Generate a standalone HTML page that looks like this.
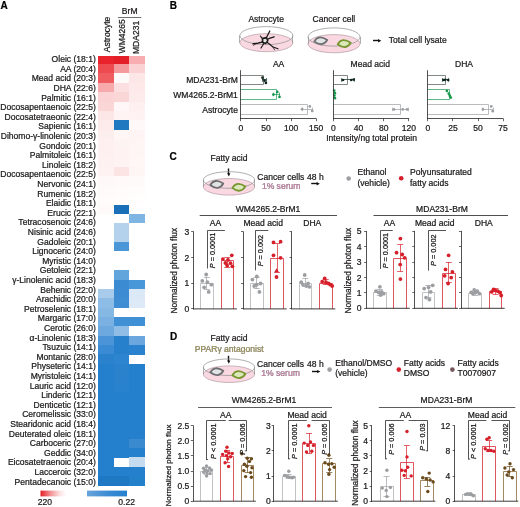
<!DOCTYPE html>
<html lang="en">
<head>
<meta charset="utf-8">
<title>Figure</title>
<style>
html,body{margin:0;padding:0;background:#fff;}
body{width:520px;height:507px;overflow:hidden;}
svg{display:block;font-family:"Liberation Sans",Arial,Helvetica,sans-serif;font-size:8.55px;fill:#1a1718;}
text{stroke:#1a1718;stroke-width:0.22px;paint-order:stroke;}
</style>
</head>
<body>
<svg width="520" height="507" viewBox="0 0 520 507">
<rect x="0" y="0" width="520" height="507" fill="#ffffff"/>
<g id="panelA">
<text x="0.60" y="9.20" font-size="10" fill="#000" stroke="#000" font-weight="bold">A</text>
<text x="129.70" y="14.10" text-anchor="middle">BrM</text>
<line x1="118.00" y1="17.50" x2="141.30" y2="17.50" stroke="#333" stroke-width="0.7"/>
<text transform="translate(109.80 52.30) rotate(-90)">Astrocyte</text>
<text transform="translate(124.90 53.40) rotate(-90)">WM4265</text>
<text transform="translate(139.30 54.00) rotate(-90)">MDA231</text>
<text x="95.80" y="62.20" text-anchor="end">Oleic (18:1)</text>
<text x="95.80" y="71.80" text-anchor="end">AA (20:4)</text>
<text x="95.80" y="81.40" text-anchor="end">Mead acid (20:3)</text>
<text x="95.80" y="91.00" text-anchor="end">DHA (22:6)</text>
<text x="95.80" y="100.60" text-anchor="end">Palmitic (16:1)</text>
<text x="95.80" y="110.20" text-anchor="end">Docosapentaenoic (22:5)</text>
<text x="95.80" y="119.80" text-anchor="end">Docosatetraeonic (22:4)</text>
<text x="95.80" y="129.40" text-anchor="end">Sapienic (16:1)</text>
<text x="95.80" y="139.00" text-anchor="end">Dihomo-γ-linolenic (20:3)</text>
<text x="95.80" y="148.60" text-anchor="end">Gondoic (20:1)</text>
<text x="95.80" y="158.20" text-anchor="end">Palmitoleic (16:1)</text>
<text x="95.80" y="167.80" text-anchor="end">Linoleic (18:2)</text>
<text x="95.80" y="177.40" text-anchor="end">Docosapentaenoic (22:5)</text>
<text x="95.80" y="187.00" text-anchor="end">Nervonic (24:1)</text>
<text x="95.80" y="196.60" text-anchor="end">Rumenic (18:2)</text>
<text x="95.80" y="206.20" text-anchor="end">Elaidic (18:1)</text>
<text x="95.80" y="215.80" text-anchor="end">Erucic (22:1)</text>
<text x="95.80" y="225.40" text-anchor="end">Tetracosenoic (24:6)</text>
<text x="95.80" y="235.00" text-anchor="end">Nisinic acid (24:6)</text>
<text x="95.80" y="244.60" text-anchor="end">Gadoleic (20:1)</text>
<text x="95.80" y="254.20" text-anchor="end">Lignoceric (24:0)</text>
<text x="95.80" y="263.80" text-anchor="end">Myristic (14:0)</text>
<text x="95.80" y="273.40" text-anchor="end">Getoleic (22:1)</text>
<text x="95.80" y="283.00" text-anchor="end">γ-Linolenic acid (18:3)</text>
<text x="95.80" y="292.60" text-anchor="end">Behenic (22:0)</text>
<text x="95.80" y="302.20" text-anchor="end">Arachidic (20:0)</text>
<text x="95.80" y="311.80" text-anchor="end">Petroselenic (18:1)</text>
<text x="95.80" y="321.40" text-anchor="end">Margaric (17:0)</text>
<text x="95.80" y="331.00" text-anchor="end">Cerotic (26:0)</text>
<text x="95.80" y="340.60" text-anchor="end">α-Linolenic (18:3)</text>
<text x="95.80" y="350.20" text-anchor="end">Tsuzuic (14:1)</text>
<text x="95.80" y="359.80" text-anchor="end">Montanic (28:0)</text>
<text x="95.80" y="369.40" text-anchor="end">Physeteric (14:1)</text>
<text x="95.80" y="379.00" text-anchor="end">Myristoleic (14:1)</text>
<text x="95.80" y="388.60" text-anchor="end">Lauric acid (12:0)</text>
<text x="95.80" y="398.20" text-anchor="end">Linderic (12:1)</text>
<text x="95.80" y="407.80" text-anchor="end">Denticetic (12:1)</text>
<text x="95.80" y="417.40" text-anchor="end">Ceromelissic (33:0)</text>
<text x="95.80" y="427.00" text-anchor="end">Stearidonic acid (18:4)</text>
<text x="95.80" y="436.60" text-anchor="end">Deuterated oleic (18:1)</text>
<text x="95.80" y="446.20" text-anchor="end">Carboceric (27:0)</text>
<text x="95.80" y="455.80" text-anchor="end">Geddic (34:0)</text>
<text x="95.80" y="465.40" text-anchor="end">Eicosatetraenoic (20:4)</text>
<text x="95.80" y="475.00" text-anchor="end">Lacceroic (32:0)</text>
<text x="95.80" y="484.60" text-anchor="end">Pentadecanoic (15:0)</text>
<g shape-rendering="crispEdges">
<rect x="98.40" y="55.80" width="15.35" height="8.32" fill="#e9222b"/>
<rect x="113.70" y="55.80" width="15.35" height="8.32" fill="#e41e26"/>
<rect x="129.00" y="55.80" width="15.75" height="8.32" fill="#f8aeb0"/>
<rect x="98.40" y="64.07" width="15.35" height="9.42" fill="#ee4b50"/>
<rect x="113.70" y="64.07" width="15.35" height="9.42" fill="#f49a9c"/>
<rect x="129.00" y="64.07" width="15.75" height="9.42" fill="#fbd2d3"/>
<rect x="98.40" y="73.43" width="15.35" height="9.42" fill="#ef5d60"/>
<rect x="113.70" y="73.43" width="15.35" height="9.42" fill="#fffafa"/>
<rect x="129.00" y="73.43" width="15.75" height="9.42" fill="#fde6e6"/>
<rect x="98.40" y="82.80" width="15.35" height="9.42" fill="#f7a9ab"/>
<rect x="113.70" y="82.80" width="15.35" height="9.42" fill="#fcdfe0"/>
<rect x="129.00" y="82.80" width="15.75" height="9.42" fill="#fde9e9"/>
<rect x="98.40" y="92.17" width="15.35" height="9.42" fill="#fbd3d4"/>
<rect x="113.70" y="92.17" width="15.35" height="9.42" fill="#fbd6d7"/>
<rect x="129.00" y="92.17" width="15.75" height="9.42" fill="#fdebeb"/>
<rect x="98.40" y="101.54" width="15.35" height="9.42" fill="#fbd6d7"/>
<rect x="113.70" y="101.54" width="15.35" height="9.42" fill="#fff7f7"/>
<rect x="129.00" y="101.54" width="15.75" height="9.42" fill="#fef0f0"/>
<rect x="98.40" y="110.90" width="15.35" height="9.42" fill="#fde6e6"/>
<rect x="113.70" y="110.90" width="15.35" height="9.42" fill="#fff4f4"/>
<rect x="129.00" y="110.90" width="15.75" height="9.42" fill="#fef2f2"/>
<rect x="98.40" y="120.27" width="15.35" height="9.42" fill="#fdebeb"/>
<rect x="113.70" y="120.27" width="15.35" height="9.42" fill="#1f78c0"/>
<rect x="129.00" y="120.27" width="15.75" height="9.42" fill="#fff8f8"/>
<rect x="98.40" y="129.64" width="15.35" height="9.42" fill="#fdeeee"/>
<rect x="113.70" y="129.64" width="15.35" height="9.42" fill="#fff6f6"/>
<rect x="129.00" y="129.64" width="15.75" height="9.42" fill="#fef4f4"/>
<rect x="98.40" y="139.00" width="15.35" height="9.42" fill="#fef0f0"/>
<rect x="113.70" y="139.00" width="15.35" height="9.42" fill="#fef3f3"/>
<rect x="129.00" y="139.00" width="15.75" height="9.42" fill="#fef5f5"/>
<rect x="98.40" y="148.37" width="15.35" height="9.42" fill="#fef0f0"/>
<rect x="113.70" y="148.37" width="15.35" height="9.42" fill="#fef2f2"/>
<rect x="129.00" y="148.37" width="15.75" height="9.42" fill="#fef5f5"/>
<rect x="98.40" y="157.74" width="15.35" height="9.42" fill="#fef1f1"/>
<rect x="113.70" y="157.74" width="15.35" height="9.42" fill="#fef3f3"/>
<rect x="129.00" y="157.74" width="15.75" height="9.42" fill="#fff6f6"/>
<rect x="98.40" y="167.10" width="15.35" height="9.42" fill="#fef2f2"/>
<rect x="113.70" y="167.10" width="15.35" height="9.42" fill="#fce4e4"/>
<rect x="129.00" y="167.10" width="15.75" height="9.42" fill="#fef5f5"/>
<rect x="98.40" y="176.47" width="15.35" height="9.42" fill="#fff8f8"/>
<rect x="113.70" y="176.47" width="15.35" height="9.42" fill="#fff9f9"/>
<rect x="129.00" y="176.47" width="15.75" height="9.42" fill="#fffafa"/>
<rect x="98.40" y="185.84" width="15.35" height="9.42" fill="#fffafa"/>
<rect x="113.70" y="185.84" width="15.35" height="9.42" fill="#fffbfb"/>
<rect x="129.00" y="185.84" width="15.75" height="9.42" fill="#fffcfc"/>
<rect x="98.40" y="195.21" width="15.35" height="9.42" fill="#fffbfb"/>
<rect x="113.70" y="195.21" width="15.35" height="9.42" fill="#fffcfc"/>
<rect x="129.00" y="195.21" width="15.75" height="9.42" fill="#fffdfd"/>
<rect x="98.40" y="204.57" width="15.35" height="9.42" fill="#fffafa"/>
<rect x="113.70" y="204.57" width="15.35" height="9.42" fill="#1a70b8"/>
<rect x="129.00" y="213.94" width="15.75" height="9.42" fill="#7fb5e3"/>
<rect x="113.70" y="223.31" width="15.35" height="9.42" fill="#b5d2ec"/>
<rect x="113.70" y="232.67" width="15.35" height="9.42" fill="#b5d2ec"/>
<rect x="113.70" y="242.04" width="15.35" height="9.42" fill="#4a96d6"/>
<rect x="113.70" y="270.14" width="15.35" height="9.42" fill="#62a4dc"/>
<rect x="113.70" y="279.51" width="15.35" height="9.42" fill="#3b8bd3"/>
<rect x="129.00" y="279.51" width="15.75" height="9.42" fill="#4797d9"/>
<rect x="98.40" y="288.88" width="15.35" height="9.42" fill="#a8cbeb"/>
<rect x="113.70" y="288.88" width="15.35" height="9.42" fill="#3d8cd3"/>
<rect x="129.00" y="288.88" width="15.75" height="9.42" fill="#dbe8f6"/>
<rect x="98.40" y="298.24" width="15.35" height="9.42" fill="#8dbce6"/>
<rect x="113.70" y="298.24" width="15.35" height="9.42" fill="#3f8ed4"/>
<rect x="129.00" y="298.24" width="15.75" height="9.42" fill="#dde9f6"/>
<rect x="98.40" y="307.61" width="15.35" height="9.42" fill="#86b8e4"/>
<rect x="98.40" y="316.98" width="15.35" height="9.42" fill="#7ab0e2"/>
<rect x="113.70" y="316.98" width="15.35" height="9.42" fill="#4090d5"/>
<rect x="129.00" y="316.98" width="15.75" height="9.42" fill="#3f90d5"/>
<rect x="98.40" y="326.34" width="15.35" height="9.42" fill="#6da8de"/>
<rect x="113.70" y="326.34" width="15.35" height="9.42" fill="#8fbde6"/>
<rect x="98.40" y="335.71" width="15.35" height="9.42" fill="#4a94d7"/>
<rect x="113.70" y="335.71" width="15.35" height="9.42" fill="#2680cc"/>
<rect x="129.00" y="335.71" width="15.75" height="9.42" fill="#6ba7de"/>
<rect x="98.40" y="345.08" width="15.35" height="9.42" fill="#3a8bd3"/>
<rect x="113.70" y="345.08" width="15.35" height="9.42" fill="#2680cc"/>
<rect x="129.00" y="345.08" width="15.75" height="9.42" fill="#2a82ce"/>
<rect x="98.40" y="354.44" width="15.35" height="9.42" fill="#2a82cd"/>
<rect x="113.70" y="354.44" width="15.35" height="9.42" fill="#2e85cf"/>
<rect x="98.40" y="363.81" width="15.35" height="9.42" fill="#2480cc"/>
<rect x="113.70" y="363.81" width="15.35" height="9.42" fill="#2a82cd"/>
<rect x="129.00" y="363.81" width="15.75" height="9.42" fill="#2480cc"/>
<rect x="98.40" y="373.18" width="15.35" height="9.42" fill="#2480cc"/>
<rect x="113.70" y="373.18" width="15.35" height="9.42" fill="#2a82cd"/>
<rect x="129.00" y="373.18" width="15.75" height="9.42" fill="#2480cc"/>
<rect x="98.40" y="382.55" width="15.35" height="9.42" fill="#2480cc"/>
<rect x="113.70" y="382.55" width="15.35" height="9.42" fill="#2882cd"/>
<rect x="129.00" y="382.55" width="15.75" height="9.42" fill="#2480cc"/>
<rect x="98.40" y="391.91" width="15.35" height="9.42" fill="#2480cc"/>
<rect x="113.70" y="391.91" width="15.35" height="9.42" fill="#2480cc"/>
<rect x="129.00" y="391.91" width="15.75" height="9.42" fill="#2480cc"/>
<rect x="98.40" y="401.28" width="15.35" height="9.42" fill="#2480cc"/>
<rect x="113.70" y="401.28" width="15.35" height="9.42" fill="#2480cc"/>
<rect x="129.00" y="401.28" width="15.75" height="9.42" fill="#2480cc"/>
<rect x="98.40" y="410.65" width="15.35" height="9.42" fill="#2480cc"/>
<rect x="113.70" y="410.65" width="15.35" height="9.42" fill="#2480cc"/>
<rect x="129.00" y="410.65" width="15.75" height="9.42" fill="#2480cc"/>
<rect x="98.40" y="420.01" width="15.35" height="9.42" fill="#2480cc"/>
<rect x="113.70" y="420.01" width="15.35" height="9.42" fill="#2480cc"/>
<rect x="129.00" y="420.01" width="15.75" height="9.42" fill="#2480cc"/>
<rect x="98.40" y="429.38" width="15.35" height="9.42" fill="#2480cc"/>
<rect x="113.70" y="429.38" width="15.35" height="9.42" fill="#2480cc"/>
<rect x="129.00" y="429.38" width="15.75" height="9.42" fill="#2480cc"/>
<rect x="98.40" y="438.75" width="15.35" height="9.42" fill="#2480cc"/>
<rect x="113.70" y="438.75" width="15.35" height="9.42" fill="#2480cc"/>
<rect x="129.00" y="438.75" width="15.75" height="9.42" fill="#3a8ad0"/>
<rect x="98.40" y="448.11" width="15.35" height="9.42" fill="#2480cc"/>
<rect x="113.70" y="448.11" width="15.35" height="9.42" fill="#2480cc"/>
<rect x="129.00" y="448.11" width="15.75" height="9.42" fill="#2480cc"/>
<rect x="98.40" y="457.48" width="15.35" height="9.42" fill="#2480cc"/>
<rect x="129.00" y="457.48" width="15.75" height="9.42" fill="#c5dcf0"/>
<rect x="98.40" y="466.85" width="15.35" height="9.42" fill="#2480cc"/>
<rect x="113.70" y="466.85" width="15.35" height="9.42" fill="#2480cc"/>
<rect x="129.00" y="466.85" width="15.75" height="9.42" fill="#2480cc"/>
<rect x="98.40" y="476.22" width="15.35" height="9.42" fill="#1f78c4"/>
<rect x="113.70" y="476.22" width="15.35" height="9.42" fill="#1f78c4"/>
<rect x="129.00" y="476.22" width="15.75" height="9.42" fill="#2380cb"/>
</g>
<defs><linearGradient id="gr" x1="0" x2="1" y1="0" y2="0"><stop offset="0" stop-color="#e41e26"/><stop offset="0.4" stop-color="#f39699"/><stop offset="0.75" stop-color="#fce3e4"/><stop offset="1" stop-color="#ffffff"/></linearGradient><linearGradient id="gb" x1="0" x2="1" y1="0" y2="0"><stop offset="0" stop-color="#69a5dc"/><stop offset="0.5" stop-color="#3d8cd3"/><stop offset="1" stop-color="#2480cc"/></linearGradient></defs>
<rect x="40.50" y="490.60" width="26.00" height="5.80" fill="url(#gr)"/>
<rect x="87.00" y="490.60" width="40.00" height="5.80" fill="url(#gb)"/>
<text x="45.00" y="504.50" text-anchor="middle">220</text>
<text x="126.60" y="504.50" text-anchor="middle">0.22</text>
</g>
<g id="panelB">
<text x="169.80" y="9.20" font-size="10" fill="#000" stroke="#000" font-weight="bold">B</text>
<text x="266.20" y="21.50" text-anchor="middle">Astrocyte</text>
<text x="333.90" y="21.50" text-anchor="middle">Cancer cell</text>
<ellipse cx="266.4" cy="42.7" rx="26.5" ry="9" fill="#f9d8e1" stroke="#b39aa3" stroke-width="0.7"/>
<line x1="239.50" y1="35.60" x2="239.50" y2="42.70" stroke="#8c8c8c" stroke-width="0.7"/>
<line x1="292.50" y1="35.60" x2="292.50" y2="42.70" stroke="#8c8c8c" stroke-width="0.7"/>
<ellipse cx="266.4" cy="35.6" rx="26.5" ry="9" fill="none" stroke="#8c8c8c" stroke-width="0.7"/>
<g stroke="#1a1a1a" fill="none" stroke-linecap="round" stroke-linejoin="round"><path d="M265 40.5 L268 34.5 L269.8 31" stroke-width="1.3"/><path d="M266 40 L270 38.2 L274.2 36.8" stroke-width="1.3"/><path d="M266 41.5 L270 44.5 L273 47 L278 48.8" stroke-width="1.2"/><path d="M273 47 L274.5 49.8" stroke-width="0.8"/><path d="M264 41.5 L258 43.2 L253 43.8" stroke-width="1.4"/><path d="M256 43.4 L253.6 45.4" stroke-width="0.8"/><path d="M264.6 42 L262.6 45.5 L261 48" stroke-width="1.2"/><path d="M264.2 39.8 L261.6 37.6 L260.4 36" stroke-width="1.1"/><path d="M262.4 38.6 L266.4 37.6 L267.8 40.6 L265.8 43.4 L262.8 42.6 Z" stroke-width="1.6" fill="#e4e4e4"/></g>
<ellipse cx="334" cy="43.7" rx="26" ry="9.1" fill="#f9d8e1" stroke="#b39aa3" stroke-width="0.7"/>
<line x1="308.50" y1="37.00" x2="308.50" y2="43.70" stroke="#8c8c8c" stroke-width="0.7"/>
<line x1="360.50" y1="37.00" x2="360.50" y2="43.70" stroke="#8c8c8c" stroke-width="0.7"/>
<ellipse cx="334" cy="37" rx="26" ry="9.1" fill="none" stroke="#8c8c8c" stroke-width="0.7"/>
<path d="M314.30 41.40 C317.23 36.40 321.45 36.20 327.30 39.90 C324.38 45.00 319.50 45.80 314.30 41.40Z" fill="#e2e3e4" stroke="#6d6e71" stroke-width="1.8" stroke-linejoin="round"/>
<path d="M337.70 44.20 C340.62 39.20 344.85 39.00 350.70 42.70 C347.77 47.80 342.90 48.60 337.70 44.20Z" fill="#dce8b9" stroke="#76962f" stroke-width="1.8" stroke-linejoin="round"/>
<line x1="373.00" y1="40.50" x2="379.10" y2="40.50" stroke="#111" stroke-width="1.4"/>
<path d="M381.30 40.80 L378.10 39.10 L378.10 42.50Z" fill="#111"/>
<text x="388.80" y="43.40">Total cell lysate</text>
<text x="237.90" y="83.00" text-anchor="end">MDA231-BrM</text>
<text x="237.90" y="98.20" text-anchor="end">WM4265.2-BrM1</text>
<text x="237.90" y="113.40" text-anchor="end">Astrocyte</text>
<text x="278.60" y="67.00" text-anchor="middle">AA</text>
<path d="M240.50 75.50 H263.50 V84.50 H240.50" fill="#fff" stroke="#59615c" stroke-width="0.75"/>
<path d="M240.50 89.50 H276.50 V99.50 H240.50" fill="#fff" stroke="#2f9e5e" stroke-width="0.75"/>
<path d="M240.50 104.50 H307.50 V114.50 H240.50" fill="#fff" stroke="#a3a5a8" stroke-width="0.75"/>
<line x1="262.24" y1="79.50" x2="266.00" y2="79.50" stroke="#10281c" stroke-width="0.7"/>
<line x1="262.50" y1="78.15" x2="262.50" y2="81.75" stroke="#10281c" stroke-width="0.7"/>
<line x1="266.50" y1="78.15" x2="266.50" y2="81.75" stroke="#10281c" stroke-width="0.7"/>
<line x1="273.03" y1="94.50" x2="279.55" y2="94.50" stroke="#14964b" stroke-width="0.7"/>
<line x1="273.50" y1="92.60" x2="273.50" y2="96.20" stroke="#14964b" stroke-width="0.7"/>
<line x1="279.50" y1="92.60" x2="279.50" y2="96.20" stroke="#14964b" stroke-width="0.7"/>
<line x1="302.14" y1="109.50" x2="312.69" y2="109.50" stroke="#9c9ea1" stroke-width="0.7"/>
<line x1="302.50" y1="107.55" x2="302.50" y2="111.15" stroke="#9c9ea1" stroke-width="0.7"/>
<line x1="312.50" y1="107.55" x2="312.50" y2="111.15" stroke="#9c9ea1" stroke-width="0.7"/>
<circle cx="262.50" cy="77.70" r="1.35" fill="#10281c"/>
<circle cx="264.60" cy="80.60" r="1.35" fill="#10281c"/>
<circle cx="265.90" cy="82.90" r="1.35" fill="#10281c"/>
<circle cx="273.40" cy="94.60" r="1.35" fill="#14964b"/>
<circle cx="277.30" cy="91.90" r="1.35" fill="#14964b"/>
<circle cx="279.50" cy="96.90" r="1.35" fill="#14964b"/>
<circle cx="302.10" cy="109.20" r="1.35" fill="#9c9ea1"/>
<circle cx="309.80" cy="106.40" r="1.35" fill="#9c9ea1"/>
<circle cx="312.30" cy="110.90" r="1.35" fill="#9c9ea1"/>
<line x1="240.50" y1="70.20" x2="240.50" y2="119.00" stroke="#262626" stroke-width="0.8"/>
<line x1="240.10" y1="118.50" x2="316.50" y2="118.50" stroke="#262626" stroke-width="0.8"/>
<line x1="240.50" y1="118.70" x2="240.50" y2="121.20" stroke="#262626" stroke-width="0.7"/>
<text x="240.90" y="130.90" text-anchor="middle">0</text>
<line x1="266.50" y1="118.70" x2="266.50" y2="121.20" stroke="#262626" stroke-width="0.7"/>
<text x="266.00" y="130.90" text-anchor="middle">50</text>
<line x1="291.50" y1="118.70" x2="291.50" y2="121.20" stroke="#262626" stroke-width="0.7"/>
<text x="291.10" y="130.90" text-anchor="middle">100</text>
<line x1="316.50" y1="118.70" x2="316.50" y2="121.20" stroke="#262626" stroke-width="0.7"/>
<text x="316.20" y="130.90" text-anchor="middle">150</text>
<text x="370.30" y="67.00" text-anchor="middle">Mead acid</text>
<path d="M333.50 75.50 H347.50 V84.50 H333.50" fill="#fff" stroke="#59615c" stroke-width="0.75"/>
<path d="M333.50 104.50 H400.50 V114.50 H333.50" fill="#fff" stroke="#a3a5a8" stroke-width="0.75"/>
<line x1="341.66" y1="79.50" x2="354.21" y2="79.50" stroke="#10281c" stroke-width="0.7"/>
<line x1="341.50" y1="78.15" x2="341.50" y2="81.75" stroke="#10281c" stroke-width="0.7"/>
<line x1="354.50" y1="78.15" x2="354.50" y2="81.75" stroke="#10281c" stroke-width="0.7"/>
<line x1="392.80" y1="109.50" x2="408.49" y2="109.50" stroke="#9c9ea1" stroke-width="0.7"/>
<line x1="392.50" y1="107.55" x2="392.50" y2="111.15" stroke="#9c9ea1" stroke-width="0.7"/>
<line x1="408.50" y1="107.55" x2="408.50" y2="111.15" stroke="#9c9ea1" stroke-width="0.7"/>
<circle cx="343.00" cy="80.00" r="1.35" fill="#10281c"/>
<circle cx="351.20" cy="80.00" r="1.35" fill="#10281c"/>
<circle cx="353.70" cy="79.60" r="1.35" fill="#10281c"/>
<circle cx="334.20" cy="90.60" r="1.35" fill="#14964b"/>
<circle cx="334.90" cy="93.20" r="1.35" fill="#14964b"/>
<circle cx="334.40" cy="95.60" r="1.35" fill="#14964b"/>
<circle cx="334.90" cy="98.20" r="1.35" fill="#14964b"/>
<circle cx="394.00" cy="109.40" r="1.35" fill="#9c9ea1"/>
<circle cx="402.70" cy="109.40" r="1.35" fill="#9c9ea1"/>
<circle cx="407.00" cy="109.40" r="1.35" fill="#9c9ea1"/>
<line x1="333.50" y1="70.20" x2="333.50" y2="119.00" stroke="#262626" stroke-width="0.8"/>
<line x1="333.10" y1="118.50" x2="409.10" y2="118.50" stroke="#262626" stroke-width="0.8"/>
<line x1="333.50" y1="118.70" x2="333.50" y2="121.20" stroke="#262626" stroke-width="0.7"/>
<text x="333.50" y="130.90" text-anchor="middle">0</text>
<line x1="358.50" y1="118.70" x2="358.50" y2="121.20" stroke="#262626" stroke-width="0.7"/>
<text x="358.60" y="130.90" text-anchor="middle">40</text>
<line x1="383.50" y1="118.70" x2="383.50" y2="121.20" stroke="#262626" stroke-width="0.7"/>
<text x="383.70" y="130.90" text-anchor="middle">80</text>
<line x1="408.50" y1="118.70" x2="408.50" y2="121.20" stroke="#262626" stroke-width="0.7"/>
<text x="408.80" y="130.90" text-anchor="middle">120</text>
<text x="464.00" y="67.00" text-anchor="middle">DHA</text>
<path d="M427.50 75.50 H445.50 V84.50 H427.50" fill="#fff" stroke="#59615c" stroke-width="0.75"/>
<path d="M427.50 89.50 H449.50 V99.50 H427.50" fill="#fff" stroke="#2f9e5e" stroke-width="0.75"/>
<path d="M427.50 104.50 H488.50 V114.50 H427.50" fill="#fff" stroke="#a3a5a8" stroke-width="0.75"/>
<line x1="442.16" y1="79.50" x2="448.68" y2="79.50" stroke="#10281c" stroke-width="0.7"/>
<line x1="442.50" y1="78.15" x2="442.50" y2="81.75" stroke="#10281c" stroke-width="0.7"/>
<line x1="448.50" y1="78.15" x2="448.50" y2="81.75" stroke="#10281c" stroke-width="0.7"/>
<line x1="482.52" y1="109.50" x2="493.06" y2="109.50" stroke="#9c9ea1" stroke-width="0.7"/>
<line x1="482.50" y1="107.55" x2="482.50" y2="111.15" stroke="#9c9ea1" stroke-width="0.7"/>
<line x1="493.50" y1="107.55" x2="493.50" y2="111.15" stroke="#9c9ea1" stroke-width="0.7"/>
<circle cx="443.50" cy="80.00" r="1.35" fill="#10281c"/>
<circle cx="445.20" cy="79.80" r="1.35" fill="#10281c"/>
<circle cx="448.20" cy="80.00" r="1.35" fill="#10281c"/>
<circle cx="446.90" cy="91.00" r="1.35" fill="#14964b"/>
<circle cx="448.80" cy="93.60" r="1.35" fill="#14964b"/>
<circle cx="449.80" cy="95.70" r="1.35" fill="#14964b"/>
<circle cx="450.80" cy="97.60" r="1.35" fill="#14964b"/>
<circle cx="483.00" cy="109.30" r="1.35" fill="#9c9ea1"/>
<circle cx="491.20" cy="106.40" r="1.35" fill="#9c9ea1"/>
<circle cx="492.70" cy="111.20" r="1.35" fill="#9c9ea1"/>
<line x1="427.50" y1="70.20" x2="427.50" y2="119.00" stroke="#262626" stroke-width="0.8"/>
<line x1="427.10" y1="118.50" x2="503.40" y2="118.50" stroke="#262626" stroke-width="0.8"/>
<line x1="427.50" y1="118.70" x2="427.50" y2="121.20" stroke="#262626" stroke-width="0.7"/>
<text x="427.80" y="130.90" text-anchor="middle">0</text>
<line x1="452.50" y1="118.70" x2="452.50" y2="121.20" stroke="#262626" stroke-width="0.7"/>
<text x="452.90" y="130.90" text-anchor="middle">25</text>
<line x1="478.50" y1="118.70" x2="478.50" y2="121.20" stroke="#262626" stroke-width="0.7"/>
<text x="478.00" y="130.90" text-anchor="middle">50</text>
<line x1="503.50" y1="118.70" x2="503.50" y2="121.20" stroke="#262626" stroke-width="0.7"/>
<text x="503.10" y="130.90" text-anchor="middle">75</text>
<text x="371.60" y="140.60" text-anchor="middle">Intensity/ng total protein</text>
</g>
<g id="panelC">
<text x="169.60" y="160.00" font-size="10" fill="#000" stroke="#000" font-weight="bold">C</text>
<text x="229.00" y="161.30" text-anchor="middle">Fatty acid</text>
<line x1="228.50" y1="168.50" x2="228.50" y2="174.20" stroke="#111" stroke-width="1.4"/>
<path d="M228.80 176.40 L227.20 173.20 L230.40 173.20Z" fill="#111"/>
<ellipse cx="229" cy="186.8" rx="25.6" ry="8.3" fill="#f9d8e1" stroke="#b39aa3" stroke-width="0.7"/>
<line x1="203.50" y1="180.00" x2="203.50" y2="186.80" stroke="#8c8c8c" stroke-width="0.7"/>
<line x1="254.50" y1="180.00" x2="254.50" y2="186.80" stroke="#8c8c8c" stroke-width="0.7"/>
<ellipse cx="229" cy="180" rx="25.6" ry="8.3" fill="none" stroke="#8c8c8c" stroke-width="0.7"/>
<path d="M210.30 185.00 C213.23 180.00 217.45 179.80 223.30 183.50 C220.38 188.60 215.50 189.40 210.30 185.00Z" fill="#e2e3e4" stroke="#6d6e71" stroke-width="1.8" stroke-linejoin="round"/>
<path d="M232.40 187.90 C235.33 182.90 239.55 182.70 245.40 186.40 C242.47 191.50 237.60 192.30 232.40 187.90Z" fill="#dce8b9" stroke="#76962f" stroke-width="1.8" stroke-linejoin="round"/>
<text x="257.30" y="180.20">Cancer cells</text>
<text x="307.10" y="180.20">48 h</text>
<line x1="311.20" y1="183.50" x2="317.60" y2="183.50" stroke="#111" stroke-width="1.4"/>
<path d="M319.80 183.80 L316.60 182.10 L316.60 185.50Z" fill="#111"/>
<text x="261.90" y="189.30" fill="#c77ba5" stroke="#c77ba5">1% serum</text>
<circle cx="348.70" cy="178.50" r="2.3" fill="#9c9ea1"/>
<text x="357.50" y="175.40">Ethanol</text>
<text x="357.50" y="185.80">(vehicle)</text>
<circle cx="401.20" cy="178.20" r="2.3" fill="#d61f2a"/>
<text x="410.00" y="175.40">Polyunsaturated</text>
<text x="410.00" y="185.80">fatty acids</text>
<text x="268.00" y="212.20" text-anchor="middle">WM4265.2-BrM1</text>
<line x1="199.70" y1="215.50" x2="337.00" y2="215.50" stroke="#222" stroke-width="0.8"/>
<text x="442.00" y="212.20" text-anchor="middle">MDA231-BrM</text>
<line x1="373.50" y1="215.50" x2="508.00" y2="215.50" stroke="#222" stroke-width="0.8"/>
<text text-anchor="end" font-size="8.4" transform="translate(177.40 227.90) rotate(-90)">Normalized photon flux</text>
<text x="215.40" y="226.00" text-anchor="middle">AA</text>
<text x="263.20" y="226.00" text-anchor="middle">Mead acid</text>
<text x="312.30" y="226.00" text-anchor="middle">DHA</text>
<path d="M200.50 308.90 V283.50 H213.50 V308.90" fill="#fff" stroke="#adafb2" stroke-width="0.75"/>
<line x1="206.50" y1="289.37" x2="206.50" y2="277.03" stroke="#9c9ea1" stroke-width="0.7"/>
<line x1="203.90" y1="289.50" x2="209.90" y2="289.50" stroke="#9c9ea1" stroke-width="0.7"/>
<line x1="203.90" y1="277.50" x2="209.90" y2="277.50" stroke="#9c9ea1" stroke-width="0.7"/>
<path d="M221.50 308.90 V260.50 H233.50 V308.90" fill="#fff" stroke="#d61f2a" stroke-width="0.75"/>
<line x1="227.50" y1="267.01" x2="227.50" y2="257.50" stroke="#d61f2a" stroke-width="0.7"/>
<line x1="224.30" y1="267.50" x2="230.30" y2="267.50" stroke="#d61f2a" stroke-width="0.7"/>
<line x1="224.30" y1="257.50" x2="230.30" y2="257.50" stroke="#d61f2a" stroke-width="0.7"/>
<circle cx="206.20" cy="274.50" r="1.9" fill="#9c9ea1"/>
<circle cx="202.30" cy="280.90" r="1.9" fill="#9c9ea1"/>
<circle cx="207.40" cy="282.20" r="1.9" fill="#9c9ea1"/>
<circle cx="211.30" cy="284.70" r="1.9" fill="#9c9ea1"/>
<circle cx="204.10" cy="287.30" r="1.9" fill="#9c9ea1"/>
<circle cx="208.70" cy="291.90" r="1.9" fill="#9c9ea1"/>
<circle cx="231.80" cy="255.30" r="1.9" fill="#d61f2a"/>
<circle cx="222.90" cy="259.10" r="1.9" fill="#d61f2a"/>
<circle cx="228.00" cy="259.90" r="1.9" fill="#d61f2a"/>
<circle cx="225.40" cy="263.00" r="1.9" fill="#d61f2a"/>
<circle cx="230.50" cy="263.20" r="1.9" fill="#d61f2a"/>
<circle cx="227.20" cy="265.60" r="1.9" fill="#d61f2a"/>
<circle cx="232.40" cy="266.30" r="1.9" fill="#d61f2a"/>
<line x1="193.50" y1="231.40" x2="193.50" y2="309.30" stroke="#262626" stroke-width="0.8"/>
<line x1="193.10" y1="308.90" x2="236.90" y2="308.90" stroke="#262626" stroke-width="0.9"/>
<line x1="191.20" y1="308.50" x2="193.40" y2="308.50" stroke="#262626" stroke-width="0.7"/>
<text x="189.20" y="311.90" text-anchor="end">0</text>
<line x1="191.20" y1="283.50" x2="193.40" y2="283.50" stroke="#262626" stroke-width="0.7"/>
<text x="189.20" y="286.20" text-anchor="end">1</text>
<line x1="191.20" y1="257.50" x2="193.40" y2="257.50" stroke="#262626" stroke-width="0.7"/>
<text x="189.20" y="260.50" text-anchor="end">2</text>
<line x1="191.20" y1="231.50" x2="193.40" y2="231.50" stroke="#262626" stroke-width="0.7"/>
<text x="189.20" y="234.80" text-anchor="end">3</text>
<path d="M250.50 308.90 V283.50 H263.50 V308.90" fill="#fff" stroke="#adafb2" stroke-width="0.75"/>
<line x1="256.50" y1="288.85" x2="256.50" y2="277.29" stroke="#9c9ea1" stroke-width="0.7"/>
<line x1="253.70" y1="288.50" x2="259.70" y2="288.50" stroke="#9c9ea1" stroke-width="0.7"/>
<line x1="253.70" y1="277.50" x2="259.70" y2="277.50" stroke="#9c9ea1" stroke-width="0.7"/>
<path d="M270.50 308.90 V258.50 H283.50 V308.90" fill="#fff" stroke="#d61f2a" stroke-width="0.75"/>
<line x1="277.50" y1="272.15" x2="277.50" y2="243.88" stroke="#d61f2a" stroke-width="0.7"/>
<line x1="274.10" y1="272.50" x2="280.10" y2="272.50" stroke="#d61f2a" stroke-width="0.7"/>
<line x1="274.10" y1="243.50" x2="280.10" y2="243.50" stroke="#d61f2a" stroke-width="0.7"/>
<circle cx="256.80" cy="276.50" r="1.9" fill="#9c9ea1"/>
<circle cx="252.40" cy="279.60" r="1.9" fill="#9c9ea1"/>
<circle cx="260.60" cy="283.50" r="1.9" fill="#9c9ea1"/>
<circle cx="254.20" cy="286.00" r="1.9" fill="#9c9ea1"/>
<circle cx="259.40" cy="291.90" r="1.9" fill="#9c9ea1"/>
<circle cx="256.80" cy="284.70" r="1.9" fill="#9c9ea1"/>
<circle cx="273.50" cy="242.40" r="1.9" fill="#d61f2a"/>
<circle cx="280.60" cy="241.70" r="1.9" fill="#d61f2a"/>
<circle cx="273.50" cy="255.30" r="1.9" fill="#d61f2a"/>
<circle cx="280.60" cy="257.80" r="1.9" fill="#d61f2a"/>
<circle cx="276.50" cy="277.00" r="1.9" fill="#d61f2a"/>
<line x1="243.50" y1="231.40" x2="243.50" y2="309.30" stroke="#262626" stroke-width="0.8"/>
<line x1="243.10" y1="308.90" x2="286.70" y2="308.90" stroke="#262626" stroke-width="0.9"/>
<line x1="241.00" y1="308.50" x2="243.20" y2="308.50" stroke="#262626" stroke-width="0.7"/>
<line x1="241.00" y1="283.50" x2="243.20" y2="283.50" stroke="#262626" stroke-width="0.7"/>
<line x1="241.00" y1="257.50" x2="243.20" y2="257.50" stroke="#262626" stroke-width="0.7"/>
<line x1="241.00" y1="231.50" x2="243.20" y2="231.50" stroke="#262626" stroke-width="0.7"/>
<path d="M276.6 268.2 L278.9 272.2 L274.3 272.2Z" fill="#d61f2a"/>
<path d="M299.50 308.90 V283.50 H311.50 V308.90" fill="#fff" stroke="#adafb2" stroke-width="0.75"/>
<line x1="305.50" y1="286.54" x2="305.50" y2="278.06" stroke="#9c9ea1" stroke-width="0.7"/>
<line x1="302.30" y1="286.50" x2="308.30" y2="286.50" stroke="#9c9ea1" stroke-width="0.7"/>
<line x1="302.30" y1="278.50" x2="308.30" y2="278.50" stroke="#9c9ea1" stroke-width="0.7"/>
<path d="M319.50 308.90 V283.50 H332.50 V308.90" fill="#fff" stroke="#d61f2a" stroke-width="0.75"/>
<line x1="325.50" y1="285.00" x2="325.50" y2="279.86" stroke="#d61f2a" stroke-width="0.7"/>
<line x1="322.70" y1="284.50" x2="328.70" y2="284.50" stroke="#d61f2a" stroke-width="0.7"/>
<line x1="322.70" y1="279.50" x2="328.70" y2="279.50" stroke="#d61f2a" stroke-width="0.7"/>
<circle cx="304.70" cy="275.00" r="1.9" fill="#9c9ea1"/>
<circle cx="301.20" cy="282.20" r="1.9" fill="#9c9ea1"/>
<circle cx="308.10" cy="283.50" r="1.9" fill="#9c9ea1"/>
<circle cx="303.00" cy="284.70" r="1.9" fill="#9c9ea1"/>
<circle cx="306.30" cy="286.00" r="1.9" fill="#9c9ea1"/>
<circle cx="309.40" cy="286.80" r="1.9" fill="#9c9ea1"/>
<circle cx="324.70" cy="278.50" r="1.9" fill="#d61f2a"/>
<circle cx="322.20" cy="281.70" r="1.9" fill="#d61f2a"/>
<circle cx="326.00" cy="282.20" r="1.9" fill="#d61f2a"/>
<circle cx="328.60" cy="283.50" r="1.9" fill="#d61f2a"/>
<circle cx="330.40" cy="284.70" r="1.9" fill="#d61f2a"/>
<circle cx="332.20" cy="286.00" r="1.9" fill="#d61f2a"/>
<line x1="291.50" y1="231.40" x2="291.50" y2="309.30" stroke="#262626" stroke-width="0.8"/>
<line x1="291.10" y1="308.90" x2="335.30" y2="308.90" stroke="#262626" stroke-width="0.9"/>
<line x1="289.60" y1="308.50" x2="291.80" y2="308.50" stroke="#262626" stroke-width="0.7"/>
<line x1="289.60" y1="283.50" x2="291.80" y2="283.50" stroke="#262626" stroke-width="0.7"/>
<line x1="289.60" y1="257.50" x2="291.80" y2="257.50" stroke="#262626" stroke-width="0.7"/>
<line x1="289.60" y1="231.50" x2="291.80" y2="231.50" stroke="#262626" stroke-width="0.7"/>
<path d="M207.50 268.50 V230.50 H224.90" fill="none" stroke="#2a2a2a" stroke-width="0.8"/>
<text text-anchor="middle" font-size="7.3" transform="translate(215.40 250.50) rotate(-90)"><tspan font-style="italic">P</tspan> = 0.0001</text>
<path d="M255.50 270.40 V230.50 H268.30" fill="none" stroke="#2a2a2a" stroke-width="0.8"/>
<text text-anchor="middle" font-size="7.3" transform="translate(262.80 250.60) rotate(-90)"><tspan font-style="italic">P</tspan> = 0.002</text>
<text text-anchor="end" font-size="8.4" transform="translate(350.80 227.90) rotate(-90)">Normalized photon flux</text>
<text x="389.40" y="226.00" text-anchor="middle">AA</text>
<text x="434.70" y="226.00" text-anchor="middle">Mead acid</text>
<text x="483.80" y="226.00" text-anchor="middle">DHA</text>
<path d="M373.50 308.30 V292.50 H386.50 V308.30" fill="#fff" stroke="#adafb2" stroke-width="0.75"/>
<line x1="379.50" y1="295.21" x2="379.50" y2="289.82" stroke="#9c9ea1" stroke-width="0.7"/>
<line x1="376.80" y1="295.50" x2="382.80" y2="295.50" stroke="#9c9ea1" stroke-width="0.7"/>
<line x1="376.80" y1="289.50" x2="382.80" y2="289.50" stroke="#9c9ea1" stroke-width="0.7"/>
<path d="M393.50 308.30 V258.50 H406.50 V308.30" fill="#fff" stroke="#d61f2a" stroke-width="0.75"/>
<line x1="400.50" y1="271.34" x2="400.50" y2="244.39" stroke="#d61f2a" stroke-width="0.7"/>
<line x1="397.20" y1="271.50" x2="403.20" y2="271.50" stroke="#d61f2a" stroke-width="0.7"/>
<line x1="397.20" y1="244.50" x2="403.20" y2="244.50" stroke="#d61f2a" stroke-width="0.7"/>
<circle cx="379.90" cy="286.80" r="1.9" fill="#9c9ea1"/>
<circle cx="376.00" cy="291.20" r="1.9" fill="#9c9ea1"/>
<circle cx="378.60" cy="292.40" r="1.9" fill="#9c9ea1"/>
<circle cx="381.70" cy="291.90" r="1.9" fill="#9c9ea1"/>
<circle cx="383.70" cy="293.70" r="1.9" fill="#9c9ea1"/>
<circle cx="380.60" cy="295.00" r="1.9" fill="#9c9ea1"/>
<circle cx="400.40" cy="238.60" r="1.9" fill="#d61f2a"/>
<circle cx="396.50" cy="252.70" r="1.9" fill="#d61f2a"/>
<circle cx="402.20" cy="254.50" r="1.9" fill="#d61f2a"/>
<circle cx="404.70" cy="257.80" r="1.9" fill="#d61f2a"/>
<circle cx="400.20" cy="264.60" r="1.9" fill="#d61f2a"/>
<circle cx="400.40" cy="279.10" r="1.9" fill="#d61f2a"/>
<line x1="366.50" y1="230.90" x2="366.50" y2="308.70" stroke="#262626" stroke-width="0.8"/>
<line x1="366.10" y1="308.30" x2="409.80" y2="308.30" stroke="#262626" stroke-width="0.9"/>
<line x1="364.10" y1="308.50" x2="366.30" y2="308.50" stroke="#262626" stroke-width="0.7"/>
<text x="361.40" y="311.30" text-anchor="end">0</text>
<line x1="364.10" y1="292.50" x2="366.30" y2="292.50" stroke="#262626" stroke-width="0.7"/>
<text x="361.40" y="295.90" text-anchor="end">1</text>
<line x1="364.10" y1="277.50" x2="366.30" y2="277.50" stroke="#262626" stroke-width="0.7"/>
<text x="361.40" y="280.50" text-anchor="end">2</text>
<line x1="364.10" y1="262.50" x2="366.30" y2="262.50" stroke="#262626" stroke-width="0.7"/>
<text x="361.40" y="265.10" text-anchor="end">3</text>
<line x1="364.10" y1="246.50" x2="366.30" y2="246.50" stroke="#262626" stroke-width="0.7"/>
<text x="361.40" y="249.70" text-anchor="end">4</text>
<line x1="364.10" y1="231.50" x2="366.30" y2="231.50" stroke="#262626" stroke-width="0.7"/>
<text x="361.40" y="234.30" text-anchor="end">5</text>
<path d="M422.50 308.30 V292.50 H434.50 V308.30" fill="#fff" stroke="#adafb2" stroke-width="0.75"/>
<line x1="428.50" y1="297.52" x2="428.50" y2="285.97" stroke="#9c9ea1" stroke-width="0.7"/>
<line x1="425.40" y1="297.50" x2="431.40" y2="297.50" stroke="#9c9ea1" stroke-width="0.7"/>
<line x1="425.40" y1="285.50" x2="431.40" y2="285.50" stroke="#9c9ea1" stroke-width="0.7"/>
<path d="M442.50 308.30 V273.50 H455.50 V308.30" fill="#fff" stroke="#d61f2a" stroke-width="0.75"/>
<line x1="448.50" y1="282.12" x2="448.50" y2="262.10" stroke="#d61f2a" stroke-width="0.7"/>
<line x1="445.80" y1="282.50" x2="451.80" y2="282.50" stroke="#d61f2a" stroke-width="0.7"/>
<line x1="445.80" y1="262.50" x2="451.80" y2="262.50" stroke="#d61f2a" stroke-width="0.7"/>
<circle cx="432.70" cy="285.30" r="1.9" fill="#9c9ea1"/>
<circle cx="424.20" cy="288.60" r="1.9" fill="#9c9ea1"/>
<circle cx="428.60" cy="287.30" r="1.9" fill="#9c9ea1"/>
<circle cx="430.60" cy="291.90" r="1.9" fill="#9c9ea1"/>
<circle cx="426.00" cy="297.60" r="1.9" fill="#9c9ea1"/>
<circle cx="429.40" cy="299.60" r="1.9" fill="#9c9ea1"/>
<circle cx="448.60" cy="255.30" r="1.9" fill="#d61f2a"/>
<circle cx="445.50" cy="269.40" r="1.9" fill="#d61f2a"/>
<circle cx="452.40" cy="271.90" r="1.9" fill="#d61f2a"/>
<circle cx="444.70" cy="275.80" r="1.9" fill="#d61f2a"/>
<circle cx="451.20" cy="277.60" r="1.9" fill="#d61f2a"/>
<circle cx="448.10" cy="283.50" r="1.9" fill="#d61f2a"/>
<line x1="414.50" y1="230.90" x2="414.50" y2="308.70" stroke="#262626" stroke-width="0.8"/>
<line x1="414.10" y1="308.30" x2="458.00" y2="308.30" stroke="#262626" stroke-width="0.9"/>
<line x1="412.30" y1="308.50" x2="414.50" y2="308.50" stroke="#262626" stroke-width="0.7"/>
<line x1="412.30" y1="292.50" x2="414.50" y2="292.50" stroke="#262626" stroke-width="0.7"/>
<line x1="412.30" y1="277.50" x2="414.50" y2="277.50" stroke="#262626" stroke-width="0.7"/>
<line x1="412.30" y1="262.50" x2="414.50" y2="262.50" stroke="#262626" stroke-width="0.7"/>
<line x1="412.30" y1="246.50" x2="414.50" y2="246.50" stroke="#262626" stroke-width="0.7"/>
<line x1="412.30" y1="231.50" x2="414.50" y2="231.50" stroke="#262626" stroke-width="0.7"/>
<path d="M468.50 308.30 V293.50 H481.50 V308.30" fill="#fff" stroke="#adafb2" stroke-width="0.75"/>
<line x1="475.50" y1="295.21" x2="475.50" y2="291.05" stroke="#9c9ea1" stroke-width="0.7"/>
<line x1="472.10" y1="295.50" x2="478.10" y2="295.50" stroke="#9c9ea1" stroke-width="0.7"/>
<line x1="472.10" y1="291.50" x2="478.10" y2="291.50" stroke="#9c9ea1" stroke-width="0.7"/>
<path d="M489.50 308.30 V291.50 H501.50 V308.30" fill="#fff" stroke="#d61f2a" stroke-width="0.75"/>
<line x1="495.50" y1="294.13" x2="495.50" y2="288.59" stroke="#d61f2a" stroke-width="0.7"/>
<line x1="492.50" y1="294.50" x2="498.50" y2="294.50" stroke="#d61f2a" stroke-width="0.7"/>
<line x1="492.50" y1="288.50" x2="498.50" y2="288.50" stroke="#d61f2a" stroke-width="0.7"/>
<circle cx="474.20" cy="289.90" r="1.9" fill="#9c9ea1"/>
<circle cx="471.20" cy="292.40" r="1.9" fill="#9c9ea1"/>
<circle cx="477.30" cy="291.20" r="1.9" fill="#9c9ea1"/>
<circle cx="473.00" cy="293.70" r="1.9" fill="#9c9ea1"/>
<circle cx="479.40" cy="293.70" r="1.9" fill="#9c9ea1"/>
<circle cx="475.50" cy="292.40" r="1.9" fill="#9c9ea1"/>
<circle cx="493.50" cy="289.40" r="1.9" fill="#d61f2a"/>
<circle cx="491.70" cy="291.90" r="1.9" fill="#d61f2a"/>
<circle cx="495.30" cy="290.40" r="1.9" fill="#d61f2a"/>
<circle cx="497.80" cy="291.20" r="1.9" fill="#d61f2a"/>
<circle cx="499.90" cy="292.40" r="1.9" fill="#d61f2a"/>
<circle cx="501.20" cy="295.50" r="1.9" fill="#d61f2a"/>
<line x1="461.50" y1="230.90" x2="461.50" y2="308.70" stroke="#262626" stroke-width="0.8"/>
<line x1="461.10" y1="308.30" x2="504.70" y2="308.30" stroke="#262626" stroke-width="0.9"/>
<line x1="459.00" y1="308.50" x2="461.20" y2="308.50" stroke="#262626" stroke-width="0.7"/>
<line x1="459.00" y1="292.50" x2="461.20" y2="292.50" stroke="#262626" stroke-width="0.7"/>
<line x1="459.00" y1="277.50" x2="461.20" y2="277.50" stroke="#262626" stroke-width="0.7"/>
<line x1="459.00" y1="262.50" x2="461.20" y2="262.50" stroke="#262626" stroke-width="0.7"/>
<line x1="459.00" y1="246.50" x2="461.20" y2="246.50" stroke="#262626" stroke-width="0.7"/>
<line x1="459.00" y1="231.50" x2="461.20" y2="231.50" stroke="#262626" stroke-width="0.7"/>
<path d="M380.50 269.00 V230.50 H392.70" fill="none" stroke="#2a2a2a" stroke-width="0.8"/>
<text text-anchor="middle" font-size="7.3" transform="translate(388.40 250.60) rotate(-90)"><tspan font-style="italic">P</tspan> = 0.0001</text>
<path d="M428.50 270.60 V230.50 H446.00" fill="none" stroke="#2a2a2a" stroke-width="0.8"/>
<text text-anchor="middle" font-size="7.3" transform="translate(435.90 250.20) rotate(-90)"><tspan font-style="italic">P</tspan> = 0.002</text>
</g>
<g id="panelD">
<text x="170.00" y="340.00" font-size="10" fill="#000" stroke="#000" font-weight="bold">D</text>
<text x="229.00" y="341.30" text-anchor="middle">Fatty acid</text>
<text x="229.20" y="351.60" text-anchor="middle" fill="#9a9255" stroke="#9a9255">PPARγ antagonist</text>
<line x1="228.50" y1="355.80" x2="228.50" y2="361.50" stroke="#111" stroke-width="1.4"/>
<path d="M228.80 363.70 L227.20 360.50 L230.40 360.50Z" fill="#111"/>
<ellipse cx="229" cy="374.2" rx="25.6" ry="8.3" fill="#f9d8e1" stroke="#b39aa3" stroke-width="0.7"/>
<line x1="203.50" y1="367.20" x2="203.50" y2="374.20" stroke="#8c8c8c" stroke-width="0.7"/>
<line x1="254.50" y1="367.20" x2="254.50" y2="374.20" stroke="#8c8c8c" stroke-width="0.7"/>
<ellipse cx="229" cy="367.2" rx="25.6" ry="8.3" fill="none" stroke="#8c8c8c" stroke-width="0.7"/>
<path d="M210.30 372.30 C213.23 367.30 217.45 367.10 223.30 370.80 C220.38 375.90 215.50 376.70 210.30 372.30Z" fill="#e2e3e4" stroke="#6d6e71" stroke-width="1.8" stroke-linejoin="round"/>
<path d="M232.40 375.20 C235.33 370.20 239.55 370.00 245.40 373.70 C242.47 378.80 237.60 379.60 232.40 375.20Z" fill="#dce8b9" stroke="#76962f" stroke-width="1.8" stroke-linejoin="round"/>
<text x="257.00" y="367.00">Cancer cells</text>
<text x="307.00" y="367.00">48 h</text>
<line x1="312.00" y1="371.50" x2="318.20" y2="371.50" stroke="#111" stroke-width="1.4"/>
<path d="M320.40 371.60 L317.20 369.90 L317.20 373.30Z" fill="#111"/>
<text x="261.30" y="376.30" fill="#c77ba5" stroke="#c77ba5">1% serum</text>
<circle cx="329.60" cy="369.60" r="2.3" fill="#9c9ea1"/>
<text x="335.20" y="366.30">Ethanol/DMSO</text>
<text x="335.20" y="376.20">(vehicle)</text>
<circle cx="398.80" cy="369.60" r="2.3" fill="#d61f2a"/>
<text x="403.80" y="366.30">Fatty acids</text>
<text x="403.80" y="376.20">DMSO</text>
<circle cx="452.40" cy="369.60" r="2.3" fill="#73555a"/>
<text x="457.50" y="366.30">Fatty acids</text>
<text x="457.50" y="376.20">T0070907</text>
<text x="264.00" y="403.30" text-anchor="middle">WM4265.2-BrM1</text>
<line x1="198.10" y1="407.50" x2="332.00" y2="407.50" stroke="#333" stroke-width="0.8"/>
<text x="446.50" y="403.30" text-anchor="middle">MDA231-BrM</text>
<line x1="378.80" y1="407.50" x2="515.30" y2="407.50" stroke="#333" stroke-width="0.8"/>
<text text-anchor="end" font-size="8.0" transform="translate(170.80 424.60) rotate(-90)">Normalized photon flux</text>
<text x="225.80" y="417.50" text-anchor="middle">AA</text>
<path d="M200.50 501.20 V471.50 H212.50 V501.20" fill="#fff" stroke="#adafb2" stroke-width="0.75"/>
<line x1="206.50" y1="474.02" x2="206.50" y2="467.98" stroke="#9c9ea1" stroke-width="0.7"/>
<line x1="203.65" y1="474.50" x2="209.65" y2="474.50" stroke="#9c9ea1" stroke-width="0.7"/>
<line x1="203.65" y1="467.50" x2="209.65" y2="467.50" stroke="#9c9ea1" stroke-width="0.7"/>
<path d="M220.50 501.20 V456.50 H233.50 V501.20" fill="#fff" stroke="#d61f2a" stroke-width="0.75"/>
<line x1="227.50" y1="462.54" x2="227.50" y2="450.46" stroke="#d61f2a" stroke-width="0.7"/>
<line x1="224.15" y1="462.50" x2="230.15" y2="462.50" stroke="#d61f2a" stroke-width="0.7"/>
<line x1="224.15" y1="450.50" x2="230.15" y2="450.50" stroke="#d61f2a" stroke-width="0.7"/>
<path d="M241.50 501.20 V465.50 H253.50 V501.20" fill="#fff" stroke="#86622f" stroke-width="0.75"/>
<line x1="247.50" y1="472.51" x2="247.50" y2="457.41" stroke="#6a4a1c" stroke-width="0.7"/>
<line x1="244.65" y1="472.50" x2="250.65" y2="472.50" stroke="#6a4a1c" stroke-width="0.7"/>
<line x1="244.65" y1="457.50" x2="250.65" y2="457.50" stroke="#6a4a1c" stroke-width="0.7"/>
<circle cx="206.50" cy="466.00" r="1.7" fill="#9c9ea1"/>
<circle cx="203.50" cy="468.30" r="1.7" fill="#9c9ea1"/>
<circle cx="209.50" cy="468.00" r="1.7" fill="#9c9ea1"/>
<circle cx="205.00" cy="470.20" r="1.7" fill="#9c9ea1"/>
<circle cx="208.00" cy="470.60" r="1.7" fill="#9c9ea1"/>
<circle cx="211.50" cy="470.00" r="1.7" fill="#9c9ea1"/>
<circle cx="203.80" cy="472.20" r="1.7" fill="#9c9ea1"/>
<circle cx="207.00" cy="473.00" r="1.7" fill="#9c9ea1"/>
<circle cx="210.20" cy="473.60" r="1.7" fill="#9c9ea1"/>
<circle cx="206.60" cy="476.00" r="1.7" fill="#9c9ea1"/>
<circle cx="227.00" cy="447.30" r="1.7" fill="#d61f2a"/>
<circle cx="225.80" cy="451.20" r="1.7" fill="#d61f2a"/>
<circle cx="222.60" cy="454.40" r="1.7" fill="#d61f2a"/>
<circle cx="229.00" cy="453.00" r="1.7" fill="#d61f2a"/>
<circle cx="232.20" cy="453.50" r="1.7" fill="#d61f2a"/>
<circle cx="226.40" cy="455.60" r="1.7" fill="#d61f2a"/>
<circle cx="227.70" cy="458.80" r="1.7" fill="#d61f2a"/>
<circle cx="225.10" cy="462.70" r="1.7" fill="#d61f2a"/>
<circle cx="228.60" cy="466.50" r="1.7" fill="#d61f2a"/>
<circle cx="230.60" cy="456.80" r="1.7" fill="#d61f2a"/>
<circle cx="241.80" cy="453.70" r="1.7" fill="#6a4a1c"/>
<circle cx="247.30" cy="458.20" r="1.7" fill="#6a4a1c"/>
<circle cx="251.40" cy="458.80" r="1.7" fill="#6a4a1c"/>
<circle cx="249.50" cy="461.40" r="1.7" fill="#6a4a1c"/>
<circle cx="244.40" cy="464.20" r="1.7" fill="#6a4a1c"/>
<circle cx="246.90" cy="466.30" r="1.7" fill="#6a4a1c"/>
<circle cx="252.00" cy="467.80" r="1.7" fill="#6a4a1c"/>
<circle cx="243.80" cy="470.60" r="1.7" fill="#6a4a1c"/>
<circle cx="250.60" cy="472.60" r="1.7" fill="#6a4a1c"/>
<circle cx="245.60" cy="476.60" r="1.7" fill="#6a4a1c"/>
<circle cx="251.40" cy="477.20" r="1.7" fill="#6a4a1c"/>
<line x1="193.50" y1="425.30" x2="193.50" y2="501.60" stroke="#262626" stroke-width="0.8"/>
<line x1="193.10" y1="501.20" x2="255.80" y2="501.20" stroke="#262626" stroke-width="0.9"/>
<line x1="190.80" y1="501.50" x2="193.00" y2="501.50" stroke="#262626" stroke-width="0.7"/>
<text x="189.30" y="504.20" text-anchor="end">0</text>
<line x1="190.80" y1="486.50" x2="193.00" y2="486.50" stroke="#262626" stroke-width="0.7"/>
<text x="189.30" y="489.10" text-anchor="end">0.5</text>
<line x1="190.80" y1="471.50" x2="193.00" y2="471.50" stroke="#262626" stroke-width="0.7"/>
<text x="189.30" y="474.00" text-anchor="end">1.0</text>
<line x1="190.80" y1="455.50" x2="193.00" y2="455.50" stroke="#262626" stroke-width="0.7"/>
<text x="189.30" y="458.90" text-anchor="end">1.5</text>
<line x1="190.80" y1="440.50" x2="193.00" y2="440.50" stroke="#262626" stroke-width="0.7"/>
<text x="189.30" y="443.80" text-anchor="end">2.0</text>
<line x1="190.80" y1="425.50" x2="193.00" y2="425.50" stroke="#262626" stroke-width="0.7"/>
<text x="189.30" y="428.70" text-anchor="end">2.5</text>
<path d="M208.10 459.60 H206.50 M206.50 460.00 V420.50 H225.80" fill="none" stroke="#2a2a2a" stroke-width="0.8"/>
<path d="M244.90 450.80 H246.50 M246.50 451.20 V420.50 H228.60" fill="none" stroke="#2a2a2a" stroke-width="0.8"/>
<text text-anchor="end" font-size="7.3" transform="translate(215.60 423.40) rotate(-90)"><tspan font-style="italic">P</tspan> &lt; 0.0001</text>
<text text-anchor="end" font-size="7.3" transform="translate(245.00 423.40) rotate(-90)"><tspan font-style="italic">P</tspan> = 0.006</text>
<text x="307.10" y="417.50" text-anchor="middle">Mead acid</text>
<path d="M282.50 501.20 V476.50 H295.50 V501.20" fill="#fff" stroke="#adafb2" stroke-width="0.75"/>
<line x1="288.50" y1="478.55" x2="288.50" y2="474.27" stroke="#9c9ea1" stroke-width="0.7"/>
<line x1="285.70" y1="478.50" x2="291.70" y2="478.50" stroke="#9c9ea1" stroke-width="0.7"/>
<line x1="285.70" y1="474.50" x2="291.70" y2="474.50" stroke="#9c9ea1" stroke-width="0.7"/>
<path d="M302.50 501.20 V443.50 H315.50 V501.20" fill="#fff" stroke="#d61f2a" stroke-width="0.75"/>
<line x1="309.50" y1="453.38" x2="309.50" y2="433.25" stroke="#d61f2a" stroke-width="0.7"/>
<line x1="306.00" y1="453.50" x2="312.00" y2="453.50" stroke="#d61f2a" stroke-width="0.7"/>
<line x1="306.00" y1="433.50" x2="312.00" y2="433.50" stroke="#d61f2a" stroke-width="0.7"/>
<path d="M322.50 501.20 V463.50 H335.50 V501.20" fill="#fff" stroke="#86622f" stroke-width="0.75"/>
<line x1="329.50" y1="472.01" x2="329.50" y2="458.92" stroke="#6a4a1c" stroke-width="0.7"/>
<line x1="326.30" y1="472.50" x2="332.30" y2="472.50" stroke="#6a4a1c" stroke-width="0.7"/>
<line x1="326.30" y1="458.50" x2="332.30" y2="458.50" stroke="#6a4a1c" stroke-width="0.7"/>
<circle cx="288.80" cy="471.20" r="1.7" fill="#9c9ea1"/>
<circle cx="284.60" cy="475.40" r="1.7" fill="#9c9ea1"/>
<circle cx="286.90" cy="476.50" r="1.7" fill="#9c9ea1"/>
<circle cx="289.70" cy="477.20" r="1.7" fill="#9c9ea1"/>
<circle cx="292.00" cy="477.70" r="1.7" fill="#9c9ea1"/>
<circle cx="293.40" cy="477.20" r="1.7" fill="#9c9ea1"/>
<circle cx="308.80" cy="425.80" r="1.7" fill="#d61f2a"/>
<circle cx="304.20" cy="443.10" r="1.7" fill="#d61f2a"/>
<circle cx="310.50" cy="441.90" r="1.7" fill="#d61f2a"/>
<circle cx="307.70" cy="445.40" r="1.7" fill="#d61f2a"/>
<circle cx="313.50" cy="445.40" r="1.7" fill="#d61f2a"/>
<circle cx="306.50" cy="451.90" r="1.7" fill="#d61f2a"/>
<circle cx="311.80" cy="451.20" r="1.7" fill="#d61f2a"/>
<circle cx="328.90" cy="455.30" r="1.7" fill="#6a4a1c"/>
<circle cx="325.00" cy="462.70" r="1.7" fill="#6a4a1c"/>
<circle cx="328.50" cy="464.30" r="1.7" fill="#6a4a1c"/>
<circle cx="331.90" cy="463.80" r="1.7" fill="#6a4a1c"/>
<circle cx="334.20" cy="467.30" r="1.7" fill="#6a4a1c"/>
<circle cx="329.60" cy="469.60" r="1.7" fill="#6a4a1c"/>
<circle cx="328.90" cy="474.20" r="1.7" fill="#6a4a1c"/>
<line x1="273.50" y1="425.30" x2="273.50" y2="501.60" stroke="#262626" stroke-width="0.8"/>
<line x1="273.10" y1="501.20" x2="337.80" y2="501.20" stroke="#262626" stroke-width="0.9"/>
<line x1="271.60" y1="501.50" x2="273.80" y2="501.50" stroke="#262626" stroke-width="0.7"/>
<text x="270.80" y="504.20" text-anchor="end">0</text>
<line x1="271.60" y1="476.50" x2="273.80" y2="476.50" stroke="#262626" stroke-width="0.7"/>
<text x="270.80" y="479.03" text-anchor="end">1</text>
<line x1="271.60" y1="450.50" x2="273.80" y2="450.50" stroke="#262626" stroke-width="0.7"/>
<text x="270.80" y="453.87" text-anchor="end">2</text>
<line x1="271.60" y1="425.50" x2="273.80" y2="425.50" stroke="#262626" stroke-width="0.7"/>
<text x="270.80" y="428.70" text-anchor="end">3</text>
<path d="M290.10 458.80 H288.50 M288.50 459.20 V420.50 H306.80" fill="none" stroke="#2a2a2a" stroke-width="0.8"/>
<path d="M327.90 454.00 H329.50 M329.50 454.40 V420.50 H311.60" fill="none" stroke="#2a2a2a" stroke-width="0.8"/>
<text text-anchor="end" font-size="7.3" transform="translate(297.20 423.40) rotate(-90)"><tspan font-style="italic">P</tspan> = 0.0001</text>
<text text-anchor="end" font-size="7.3" transform="translate(327.20 423.40) rotate(-90)"><tspan font-style="italic">P</tspan> = 0.005</text>
<text text-anchor="end" font-size="8.4" transform="translate(358.20 420.20) rotate(-90)">Normalized photon flux</text>
<text x="405.40" y="417.50" text-anchor="middle">AA</text>
<path d="M380.50 501.20 V486.50 H393.50 V501.20" fill="#fff" stroke="#adafb2" stroke-width="0.75"/>
<line x1="386.50" y1="496.67" x2="386.50" y2="476.59" stroke="#9c9ea1" stroke-width="0.7"/>
<line x1="383.50" y1="496.50" x2="389.50" y2="496.50" stroke="#9c9ea1" stroke-width="0.7"/>
<line x1="383.50" y1="476.50" x2="389.50" y2="476.50" stroke="#9c9ea1" stroke-width="0.7"/>
<path d="M400.50 501.20 V462.50 H413.50 V501.20" fill="#fff" stroke="#d61f2a" stroke-width="0.75"/>
<line x1="406.50" y1="478.55" x2="406.50" y2="445.63" stroke="#d61f2a" stroke-width="0.7"/>
<line x1="403.90" y1="478.50" x2="409.90" y2="478.50" stroke="#d61f2a" stroke-width="0.7"/>
<line x1="403.90" y1="445.50" x2="409.90" y2="445.50" stroke="#d61f2a" stroke-width="0.7"/>
<path d="M420.50 501.20 V480.50 H433.50 V501.20" fill="#fff" stroke="#86622f" stroke-width="0.75"/>
<line x1="427.50" y1="486.10" x2="427.50" y2="477.34" stroke="#6a4a1c" stroke-width="0.7"/>
<line x1="424.30" y1="486.50" x2="430.30" y2="486.50" stroke="#6a4a1c" stroke-width="0.7"/>
<line x1="424.30" y1="477.50" x2="430.30" y2="477.50" stroke="#6a4a1c" stroke-width="0.7"/>
<circle cx="386.90" cy="470.30" r="1.7" fill="#9c9ea1"/>
<circle cx="382.30" cy="488.10" r="1.7" fill="#9c9ea1"/>
<circle cx="390.40" cy="487.40" r="1.7" fill="#9c9ea1"/>
<circle cx="386.20" cy="490.40" r="1.7" fill="#9c9ea1"/>
<circle cx="386.90" cy="496.60" r="1.7" fill="#9c9ea1"/>
<circle cx="407.00" cy="431.50" r="1.7" fill="#d61f2a"/>
<circle cx="407.00" cy="456.90" r="1.7" fill="#d61f2a"/>
<circle cx="407.70" cy="467.30" r="1.7" fill="#d61f2a"/>
<circle cx="401.90" cy="470.30" r="1.7" fill="#d61f2a"/>
<circle cx="405.40" cy="470.80" r="1.7" fill="#d61f2a"/>
<circle cx="411.20" cy="475.90" r="1.7" fill="#d61f2a"/>
<circle cx="404.20" cy="475.40" r="1.7" fill="#d61f2a"/>
<circle cx="429.20" cy="473.10" r="1.7" fill="#6a4a1c"/>
<circle cx="422.70" cy="477.70" r="1.7" fill="#6a4a1c"/>
<circle cx="426.20" cy="478.90" r="1.7" fill="#6a4a1c"/>
<circle cx="430.10" cy="480.00" r="1.7" fill="#6a4a1c"/>
<circle cx="433.10" cy="481.90" r="1.7" fill="#6a4a1c"/>
<circle cx="427.80" cy="491.50" r="1.7" fill="#6a4a1c"/>
<line x1="371.50" y1="425.30" x2="371.50" y2="501.60" stroke="#262626" stroke-width="0.8"/>
<line x1="371.10" y1="501.20" x2="435.40" y2="501.20" stroke="#262626" stroke-width="0.9"/>
<line x1="369.70" y1="501.50" x2="371.90" y2="501.50" stroke="#262626" stroke-width="0.7"/>
<text x="368.00" y="504.20" text-anchor="end">0</text>
<line x1="369.70" y1="486.50" x2="371.90" y2="486.50" stroke="#262626" stroke-width="0.7"/>
<text x="368.00" y="489.10" text-anchor="end">1</text>
<line x1="369.70" y1="471.50" x2="371.90" y2="471.50" stroke="#262626" stroke-width="0.7"/>
<text x="368.00" y="474.00" text-anchor="end">2</text>
<line x1="369.70" y1="455.50" x2="371.90" y2="455.50" stroke="#262626" stroke-width="0.7"/>
<text x="368.00" y="458.90" text-anchor="end">3</text>
<line x1="369.70" y1="440.50" x2="371.90" y2="440.50" stroke="#262626" stroke-width="0.7"/>
<text x="368.00" y="443.80" text-anchor="end">4</text>
<line x1="369.70" y1="425.50" x2="371.90" y2="425.50" stroke="#262626" stroke-width="0.7"/>
<text x="368.00" y="428.70" text-anchor="end">5</text>
<path d="M387.10 458.80 H385.50 M385.50 459.20 V420.50 H403.80" fill="none" stroke="#2a2a2a" stroke-width="0.8"/>
<path d="M425.90 450.80 H427.50 M427.50 451.20 V420.50 H408.60" fill="none" stroke="#2a2a2a" stroke-width="0.8"/>
<text text-anchor="end" font-size="7.3" transform="translate(394.20 423.40) rotate(-90)"><tspan font-style="italic">P</tspan> = 0.006</text>
<text text-anchor="end" font-size="7.3" transform="translate(424.80 423.40) rotate(-90)"><tspan font-style="italic">P</tspan> = 0.03</text>
<text x="487.50" y="417.50" text-anchor="middle">Mead acid</text>
<path d="M462.50 501.20 V494.50 H475.50 V501.20" fill="#fff" stroke="#adafb2" stroke-width="0.75"/>
<line x1="468.50" y1="495.85" x2="468.50" y2="493.96" stroke="#9c9ea1" stroke-width="0.7"/>
<line x1="465.70" y1="495.50" x2="471.70" y2="495.50" stroke="#9c9ea1" stroke-width="0.7"/>
<line x1="465.70" y1="493.50" x2="471.70" y2="493.50" stroke="#9c9ea1" stroke-width="0.7"/>
<path d="M482.50 501.20 V446.50 H495.50 V501.20" fill="#fff" stroke="#d61f2a" stroke-width="0.75"/>
<line x1="489.50" y1="451.50" x2="489.50" y2="440.80" stroke="#d61f2a" stroke-width="0.7"/>
<line x1="486.20" y1="451.50" x2="492.20" y2="451.50" stroke="#d61f2a" stroke-width="0.7"/>
<line x1="486.20" y1="440.50" x2="492.20" y2="440.50" stroke="#d61f2a" stroke-width="0.7"/>
<path d="M503.50 501.20 V471.50 H516.50 V501.20" fill="#fff" stroke="#86622f" stroke-width="0.75"/>
<line x1="509.50" y1="476.66" x2="509.50" y2="466.28" stroke="#6a4a1c" stroke-width="0.7"/>
<line x1="506.70" y1="476.50" x2="512.70" y2="476.50" stroke="#6a4a1c" stroke-width="0.7"/>
<line x1="506.70" y1="466.50" x2="512.70" y2="466.50" stroke="#6a4a1c" stroke-width="0.7"/>
<circle cx="465.50" cy="494.40" r="1.7" fill="#9c9ea1"/>
<circle cx="467.60" cy="493.60" r="1.7" fill="#9c9ea1"/>
<circle cx="469.60" cy="494.20" r="1.7" fill="#9c9ea1"/>
<circle cx="471.60" cy="494.80" r="1.7" fill="#9c9ea1"/>
<circle cx="473.40" cy="495.80" r="1.7" fill="#9c9ea1"/>
<circle cx="470.60" cy="493.60" r="1.7" fill="#9c9ea1"/>
<circle cx="489.20" cy="437.80" r="1.7" fill="#d61f2a"/>
<circle cx="486.90" cy="439.20" r="1.7" fill="#d61f2a"/>
<circle cx="485.30" cy="448.80" r="1.7" fill="#d61f2a"/>
<circle cx="488.10" cy="450.50" r="1.7" fill="#d61f2a"/>
<circle cx="491.10" cy="450.50" r="1.7" fill="#d61f2a"/>
<circle cx="493.80" cy="451.20" r="1.7" fill="#d61f2a"/>
<circle cx="510.00" cy="463.80" r="1.7" fill="#6a4a1c"/>
<circle cx="504.90" cy="468.00" r="1.7" fill="#6a4a1c"/>
<circle cx="513.50" cy="469.60" r="1.7" fill="#6a4a1c"/>
<circle cx="508.80" cy="471.90" r="1.7" fill="#6a4a1c"/>
<circle cx="507.20" cy="474.90" r="1.7" fill="#6a4a1c"/>
<circle cx="512.30" cy="477.70" r="1.7" fill="#6a4a1c"/>
<line x1="454.50" y1="425.30" x2="454.50" y2="501.60" stroke="#262626" stroke-width="0.8"/>
<line x1="454.10" y1="501.20" x2="518.30" y2="501.20" stroke="#262626" stroke-width="0.9"/>
<line x1="452.60" y1="501.50" x2="454.80" y2="501.50" stroke="#262626" stroke-width="0.7"/>
<text x="450.20" y="504.20" text-anchor="end">0</text>
<line x1="452.60" y1="476.50" x2="454.80" y2="476.50" stroke="#262626" stroke-width="0.7"/>
<text x="450.20" y="479.03" text-anchor="end">4</text>
<line x1="452.60" y1="450.50" x2="454.80" y2="450.50" stroke="#262626" stroke-width="0.7"/>
<text x="450.20" y="453.87" text-anchor="end">8</text>
<line x1="452.60" y1="425.50" x2="454.80" y2="425.50" stroke="#262626" stroke-width="0.7"/>
<text x="450.20" y="428.70" text-anchor="end">12</text>
<path d="M470.10 459.10 H468.50 M468.50 459.50 V420.50 H486.40" fill="none" stroke="#2a2a2a" stroke-width="0.8"/>
<path d="M507.90 450.80 H509.50 M509.50 451.20 V420.50 H491.50" fill="none" stroke="#2a2a2a" stroke-width="0.8"/>
<text text-anchor="end" font-size="7.3" transform="translate(476.40 423.40) rotate(-90)"><tspan font-style="italic">P</tspan> &lt; 0.0001</text>
<text text-anchor="end" font-size="7.3" transform="translate(507.50 423.40) rotate(-90)"><tspan font-style="italic">P</tspan> = 0.002</text>
</g>
</svg>
</body>
</html>
